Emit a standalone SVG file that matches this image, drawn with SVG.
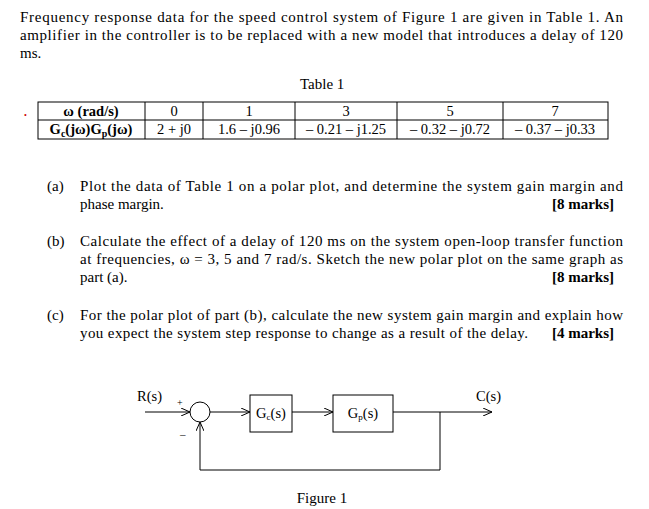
<svg xmlns="http://www.w3.org/2000/svg" width="649" height="509" viewBox="0 0 649 509">
<style>
text{font-family:"Liberation Serif","Times New Roman",serif;font-size:15px;fill:#000}
.b{font-weight:bold}
.t{font-size:14.5px}
.l{stroke:#000;stroke-width:1;fill:none}
.box{stroke:#000;stroke-width:1;fill:#fff}
</style>
<defs><marker id="a" markerWidth="10" markerHeight="8" refX="9" refY="4" orient="auto" markerUnits="userSpaceOnUse"><path d="M0,0 L9,4 L0,8" fill="none" stroke="#000"/></marker></defs>
<rect width="649" height="509" fill="#fff"/>
<text x="20" y="22" textLength="603" lengthAdjust="spacing">Frequency response data for the speed control system of Figure 1 are given in Table 1. An</text>
<text x="20" y="40" textLength="603" lengthAdjust="spacing">amplifier in the controller is to be replaced with a new model that introduces a delay of 120</text>
<text x="20" y="58">ms.</text>
<text x="300" y="89">Table 1</text>
<text x="24" y="118" style="fill:#c00;font-size:8px">•</text>
<g id="table">
<rect x="38" y="102" width="570" height="37" class="l" stroke-width="1.5"/>
<line x1="38" y1="120" x2="608" y2="120" class="l"/>
<line x1="145" y1="102" x2="145" y2="139" class="l"/>
<line x1="203" y1="102" x2="203" y2="139" class="l"/>
<line x1="295" y1="102" x2="295" y2="139" class="l"/>
<line x1="397" y1="102" x2="397" y2="139" class="l"/>
<line x1="503" y1="102" x2="503" y2="139" class="l"/>
<g text-anchor="middle">
<text x="91" y="116" class="b t">ω (rad/s)</text>
<text x="174" y="116" class="t">0</text>
<text x="249" y="116" class="t">1</text>
<text x="346" y="116" class="t">3</text>
<text x="450" y="116" class="t">5</text>
<text x="555" y="116" class="t">7</text>
<text x="91" y="134" class="b t">G<tspan font-size="10" dy="3">c</tspan><tspan dy="-3">(jω)G</tspan><tspan font-size="10" dy="3">p</tspan><tspan dy="-3">(jω)</tspan></text>
<text x="174" y="134" class="t">2 + j0</text>
<text x="249" y="134" class="t">1.6 – j0.96</text>
<text x="346" y="134" class="t">– 0.21 – j1.25</text>
<text x="450" y="134" class="t">– 0.32 – j0.72</text>
<text x="555" y="134" class="t">– 0.37 – j0.33</text>
</g>
</g>
<text x="47" y="191">(a)</text>
<text x="80" y="191" textLength="543" lengthAdjust="spacing">Plot the data of Table 1 on a polar plot, and determine the system gain margin and</text>
<text x="80" y="209">phase margin.</text>
<text x="614" y="209" text-anchor="end" class="b">[8 marks]</text>
<text x="47" y="246">(b)</text>
<text x="80" y="246" textLength="543" lengthAdjust="spacing">Calculate the effect of a delay of 120 ms on the system open-loop transfer function</text>
<text x="80" y="264" textLength="543" lengthAdjust="spacing">at frequencies, ω = 3, 5 and 7 rad/s. Sketch the new polar plot on the same graph as</text>
<text x="80" y="282">part (a).</text>
<text x="614" y="282" text-anchor="end" class="b">[8 marks]</text>
<text x="47" y="320">(c)</text>
<text x="80" y="320" textLength="543" lengthAdjust="spacing">For the polar plot of part (b), calculate the new system gain margin and explain how</text>
<text x="80" y="338" textLength="448" lengthAdjust="spacing">you expect the system step response to change as a result of the delay.</text>
<text x="614" y="338" text-anchor="end" class="b">[4 marks]</text>
<g id="sum"><circle cx="200" cy="412" r="10" class="l"/></g>
<g id="gc"><rect x="250" y="395" width="42" height="37" class="box"/><text x="271" y="418" text-anchor="middle" class="t">G<tspan font-size="9" dy="2">c</tspan><tspan dy="-2">(s)</tspan></text></g>
<g id="gp"><rect x="333" y="395" width="60" height="37" class="box"/><text x="363" y="418" text-anchor="middle" class="t">G<tspan font-size="9" dy="2">p</tspan><tspan dy="-2">(s)</tspan></text></g>
<g id="connectors">
<line x1="145" y1="412" x2="190" y2="412" class="l" marker-end="url(#a)"/>
<line x1="210" y1="412" x2="250" y2="412" class="l" marker-end="url(#a)"/>
<line x1="292" y1="412" x2="333" y2="412" class="l" marker-end="url(#a)"/>
<line x1="393" y1="412" x2="492" y2="412" class="l" marker-end="url(#a)"/>
<polyline points="440,412 440,470 200,470 200,422" class="l" marker-end="url(#a)"/>
</g>
<text x="137" y="401" class="t">R(s)</text>
<text x="177" y="406" style="font-size:10px">+</text>
<text x="180" y="438" style="font-size:11px">–</text>
<text x="476" y="401" class="t">C(s)</text>
<text x="322" y="503" text-anchor="middle">Figure 1</text>
</svg>
